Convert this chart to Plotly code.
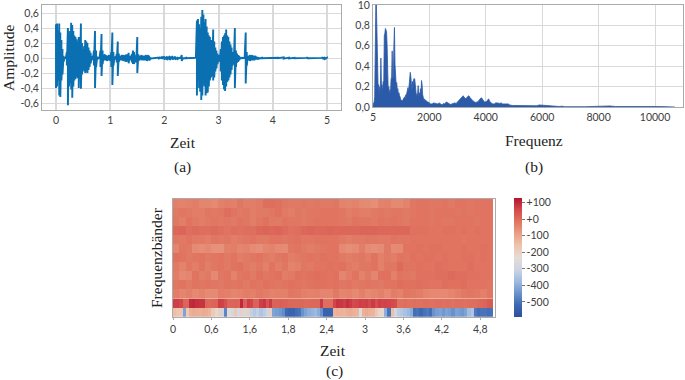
import plotly.graph_objects as go

W, H = 685, 380
GRID = "#d9d9d9"
FRAME = "#ababab"
TICK_FONT = dict(family="Lato, Open Sans, sans-serif", size=10.5, color="#404040")
TITLE_FONT = dict(family="Liberation Serif, serif", size=15.5, color="#222222")

# (a) waveform envelope
wave_time = [
    0.00,0.02,0.04,0.06,0.08,0.10,0.12,0.14,0.16,0.18,
    0.20,0.22,0.24,0.26,0.28,0.30,0.32,0.34,0.36,0.38,
    0.40,0.42,0.44,0.46,0.48,0.50,0.52,0.54,0.56,0.58,
    0.60,0.62,0.64,0.66,0.68,0.70,0.72,0.74,0.76,0.78,
    0.80,0.82,0.84,0.86,0.88,0.90,0.92,0.94,0.96,0.98,
    1.00,1.02,1.04,1.06,1.08,1.10,1.12,1.14,1.16,1.18,
    1.20,1.22,1.24,1.26,1.28,1.30,1.32,1.34,1.36,1.38,
    1.40,1.42,1.44,1.46,1.48,1.50,1.52,1.54,1.56,1.58,
    1.60,1.62,1.64,1.66,1.68,1.70,1.72,
    1.76,1.90,1.95,2.00,2.05,2.10,2.15,2.20,2.25,2.30,2.32,2.34,2.40,2.58,
    2.60,2.62,2.64,2.66,2.68,2.70,2.72,2.74,2.76,2.78,
    2.80,2.82,2.84,2.86,2.88,2.90,2.92,2.94,2.96,2.98,
    3.00,3.02,3.04,3.06,3.08,3.10,3.12,3.14,3.16,3.18,
    3.20,3.22,3.24,3.26,3.28,3.30,3.32,3.34,3.36,3.38,
    3.40,3.42,3.44,3.46,3.48,3.50,3.52,3.54,3.56,3.58,
    3.60,3.62,3.64,3.66,3.68,3.70,3.72,3.74,
    3.80,4.10,4.20,4.30,4.40,4.62,4.64,4.66,4.90,4.92,4.96,5.00,
]
wave_upper = [
    .45,.46,.36,.46,.34,.24,.12,.03,.01,.01,
    .08,.40,.36,.30,.47,.44,.36,.30,.28,.25,
    .22,.28,.22,.46,.20,.12,.16,.24,.22,.20,
    .14,.10,.07,.03,.02,.10,.36,.10,.02,.01,
    .01,.10,.32,.10,.04,.05,.04,.03,.03,.04,
    .03,.08,.34,.08,.02,.02,.05,.22,.06,.03,
    .03,.04,.04,.03,.04,.05,.03,.07,.03,.02,
    .05,.10,.08,.03,.04,.28,.05,.03,.03,.04,
    .03,.03,.03,.04,.03,.04,.03,
    .005,.005,.01,.02,.02,.025,.025,.02,.01,.01,.04,.01,.003,.003,
    .50,.52,.45,.40,.55,.64,.58,.48,.52,.42,
    .34,.30,.28,.24,.22,.38,.22,.14,.10,.06,
    .04,.03,.12,.22,.28,.30,.33,.38,.30,.28,
    .22,.18,.14,.08,.06,.40,.10,.06,.04,.03,
    .01,.01,.01,.01,.01,.34,.08,.03,.03,.04,
    .03,.04,.03,.03,.03,.02,.01,.01,
    .003,.003,.008,.006,.002,.002,.01,.002,.002,.012,.012,.002,
]
wave_lower = [
    -.40,-.38,-.30,-.50,-.52,-.30,-.22,-.05,-.01,-.01,
    -.10,-.63,-.38,-.34,-.42,-.53,-.38,-.30,-.28,-.25,
    -.27,-.40,-.25,-.41,-.22,-.15,-.18,-.20,-.18,-.20,
    -.16,-.12,-.07,-.03,-.02,-.10,-.40,-.12,-.02,-.01,
    -.01,-.12,-.24,-.08,-.03,-.03,-.03,-.04,-.03,-.03,
    -.04,-.12,-.36,-.10,-.02,-.02,-.06,-.24,-.05,-.03,
    -.03,-.03,-.04,-.03,-.05,-.05,-.03,-.07,-.03,-.02,
    -.06,-.08,-.08,-.02,-.06,-.20,-.04,-.03,-.02,-.03,
    -.03,-.03,-.03,-.03,-.04,-.03,-.03,
    -.005,-.005,-.01,-.02,-.025,-.025,-.02,-.02,-.01,-.01,-.04,-.01,-.003,-.003,
    -.50,-.30,-.40,-.45,-.56,-.50,-.35,-.38,-.50,-.47,
    -.46,-.38,-.30,-.26,-.24,-.30,-.26,-.18,-.14,-.08,
    -.05,-.04,-.18,-.30,-.36,-.42,-.44,-.38,-.32,-.30,
    -.26,-.22,-.16,-.10,-.08,-.40,-.12,-.06,-.05,-.03,
    -.01,-.01,-.01,-.01,-.01,-.34,-.10,-.03,-.03,-.04,
    -.03,-.03,-.03,-.03,-.02,-.02,-.01,-.01,
    -.003,-.003,-.008,-.006,-.002,-.002,-.01,-.002,-.002,-.012,-.012,-.002,
]
assert len(wave_time) == len(wave_upper) == len(wave_lower)

# (b) spectrum
freq = [
    5,25,45,65,85,105,125,145,165,185,205,225,245,265,285,305,325,345,365,385,
    405,425,445,465,485,505,525,545,565,585,605,625,645,665,685,705,725,745,765,785,
    805,825,845,865,885,905,925,945,965,985,1005,1025,1045,1065,1085,1105,1125,1145,1165,1185,
    1205,1225,1245,1265,1285,1305,1325,1345,1365,1385,1405,1425,1445,1465,1485,1505,1525,1545,1565,1585,
    1605,1625,1645,1665,1685,1705,1725,1745,1765,1785,1805,1825,1845,1865,1885,1905,1925,1945,1965,1985,
    2000,2050,2100,2150,2200,2250,2300,2350,2400,2450,2500,2550,2600,2650,2700,2750,2800,2850,2900,2950,
    3000,3050,3100,3150,3200,3250,3300,3350,3400,3450,3500,3550,3600,3650,3700,3750,3800,3850,3900,3950,
    4000,4050,4100,4150,4200,4250,4300,4350,4400,4450,4500,4550,4600,4650,4700,4750,4800,4850,4900,4950,
    5000,5100,5200,5300,5400,5500,5600,5700,5800,5900,
    6000,6100,6200,6300,6400,6500,6600,6700,6800,7500,7600,7800,8000,8200,8400,8600,8800,9000,9200,9400,
    9600,9800,10000,10200,10400,10600,10700,
]
magnitude = [
    .02,.03,.05,.10,.90,1.0,1.0,.60,.54,.20,.22,.12,.20,.16,.48,.20,.22,.14,.25,.22,
    .70,.72,.77,.75,.74,.60,.28,.15,.20,.12,.17,.14,.27,.30,.55,.28,.30,.60,.78,.42,
    .32,.22,.24,.17,.18,.12,.14,.11,.10,.07,.07,.06,.06,.07,.08,.09,.10,.08,.12,.11,
    .14,.17,.19,.15,.24,.28,.34,.30,.22,.16,.25,.21,.27,.28,.27,.22,.20,.10,.13,.12,
    .21,.10,.14,.10,.18,.12,.26,.22,.12,.09,.07,.08,.06,.07,.06,.05,.05,.05,.05,.04,
    .04,.03,.03,.04,.035,.03,.03,.04,.03,.02,.035,.03,.05,.04,.035,.025,.03,.035,.04,.035,
    .05,.06,.08,.10,.11,.09,.08,.10,.11,.09,.07,.06,.05,.045,.05,.06,.08,.09,.07,.05,
    .05,.06,.08,.05,.04,.03,.03,.04,.04,.035,.035,.04,.03,.03,.03,.025,.03,.02,.015,.015,
    .015,.015,.012,.012,.012,.015,.015,.013,.012,.02,
    .018,.012,.01,.008,.006,.005,.005,.008,.003,.003,.004,.006,.01,.012,.01,.005,.006,.007,.006,.005,
    .006,.005,.005,.004,.005,.002,0,
]
assert len(freq) == len(magnitude)

# (c) mel spectrogram: upper bands, 50 columns (0.1 s each)
bands_upper = [
 [-35,-40,-35,-30,-45,-45,-50,-35,-30,-35,-20,-30,-30,-25,-5,-5,-10,-20,-25,-25,-20,-25,-20,-25,-25,-20,-40,-45,-40,-50,-55,-60,-40,-35,-50,-50,-40,-20,-15,-15,-20,-20,-15,-25,-15,-15,-20,-15,-15,-15],
 [-25,-20,-25,-30,-30,-20,-25,-20,-5,-15,-25,-20,-30,-25,-25,-20,-10,-25,-30,-20,-25,-20,-20,-15,-15,-15,-20,-30,-25,-30,-30,-25,-20,-25,-20,-20,-25,-20,-15,-15,-20,-15,-15,-15,-20,-15,-20,-15,-15,-15],
 [-20,-30,-15,-25,-30,-25,-20,-25,-20,-25,-15,-20,-30,-20,-10,-25,-25,-15,-20,-20,-25,-20,-15,-15,-15,-15,-20,-25,-15,-20,-20,-25,-15,-20,-15,-20,-25,-15,-15,-15,-20,-15,-20,-20,-15,-15,-15,-20,-15,-15],
 [5,10,-5,0,-5,-5,0,-5,-15,-5,-10,-5,-5,5,10,5,10,0,-10,-5,5,10,5,5,10,5,5,5,5,10,10,10,5,5,5,5,5,-10,-10,-12,-15,-15,-12,-10,-15,-12,-15,-12,-15,-15],
 [-20,-25,-15,-25,-25,-30,-20,-25,-20,-30,-25,-20,-15,-25,-25,-15,-15,-20,-15,-10,-20,-20,-15,-15,-15,-15,-25,-30,-25,-25,-20,-20,-25,-25,-15,-20,-20,-15,-15,-15,-15,-15,-15,-15,-15,-20,-15,-15,-15,-15],
 [-45,-20,-25,-55,-60,-50,-65,-65,-35,-30,-45,-40,-55,-60,-45,-40,-50,-55,-20,-15,-25,-30,-25,-20,-15,-15,-50,-60,-55,-30,-55,-60,-55,-25,-55,-50,-15,-15,-10,-15,-10,-10,-15,-15,-15,-10,-15,-15,-10,-15],
 [-10,-15,-25,-20,-15,-25,-20,-15,-25,-15,-30,-25,-20,-15,-25,-30,-20,-15,-30,-25,-20,-15,-20,-10,-15,-15,-25,-30,-25,-20,-30,-15,-35,-25,-30,-15,-20,-10,-15,-10,-10,-15,-10,-15,-15,-10,-10,-15,-10,-15],
 [-25,-40,-20,-30,-15,-30,-20,-15,-25,-15,-10,-25,-30,-20,-35,-15,-30,-20,-40,-35,-20,-25,-15,-15,-10,-15,-10,-25,-30,-20,-20,-15,-35,-20,-20,0,-15,-15,-10,-15,-15,-5,-10,-15,-15,-15,-5,-15,-15,-15],
 [-30,-50,-45,-15,-30,-25,-50,-20,-15,-40,-20,-15,-25,-10,-20,-15,-10,-30,-25,-10,-15,-10,-5,-10,-15,-10,-45,-30,-15,-40,-25,-45,-10,-10,-35,-15,-20,-25,-10,-10,-10,-5,-5,0,-5,-5,-10,-10,-15,-15],
 [-20,-15,-25,-15,-20,-15,-20,-25,-15,-20,-15,-25,-15,-20,-10,-15,-20,-15,-10,-15,-20,-15,-10,-10,-15,-10,-20,-15,-25,-20,-15,-20,-25,-15,-15,-5,-10,-10,-5,-10,-15,-15,-5,-10,-10,-5,-15,-15,-15,-20],
 [-30,-45,-35,-50,-40,-55,-55,-30,-35,-45,-40,-30,-35,-25,-30,-40,-35,-35,-20,-25,-35,-40,-35,-45,-45,-25,-45,-40,-50,-35,-50,-45,-35,-50,-30,-40,-20,-25,-30,-45,-50,-50,-50,-45,-35,-25,-20,-25,-35,-20],
]
# lowest two bands, 100 columns (0.05 s each)
band_red = [
 70,70,60,10,10,95,100,90,85,85,10,5,10,15,70,65,45,10,10,15,10,100,20,70,60,15,15,70,80,40,75,15,15,20,15,15,5,5,5,5,5,0,0,5,5,5,75,-5,-5,-5,
 60,85,80,70,90,75,55,60,70,65,70,55,75,50,70,60,65,60,55,50,-10,-10,-5,-10,-10,-5,-10,-10,-5,-5,-10,-10,-5,-5,-10,-5,-5,-10,-5,-5,-5,-10,-5,-5,-5,0,5,10,25,25,
]
band_blue = [
 -150,-160,-170,-420,-180,-120,-110,-115,-120,-110,-115,-130,-180,-220,-190,-300,-470,-240,-280,-170,-280,-200,-270,-200,-320,-340,-320,-350,-330,-300,-200,-420,-430,-440,-460,-520,-530,-530,-510,-500,-450,-420,-400,-390,-380,-400,-450,-540,-540,-540,
 -130,-120,-125,-130,-115,-110,-120,-130,-250,-120,-110,-120,-130,-170,-210,-220,-400,-500,-150,-280,-330,-340,-360,-380,-400,-510,-500,-520,-500,-490,-510,-450,-430,-420,-440,-420,-430,-450,-420,-430,-440,-420,-370,-350,-490,-510,-500,-500,-510,-500,
]
assert len(band_red) == 100 and len(band_blue) == 100
assert all(len(r) == 50 for r in bands_upper)
time_tick_vals = [0, 0.6, 1.2, 1.8, 2.4, 3.0, 3.6, 4.2, 4.8]
time_tick_text = ["0", "0,6", "1,6", "1,8", "2,4", "3", "3,6", "4,2", "4,8"]
cbar_vals = [100, 0, -100, -200, -300, -400, -500]
cbar_text = ["+100", "+0", "-100", "-200", "-300", "-400", "-500"]

COOLWARM = [
    [0.0, "#2f4f9f"], [0.1, "#3d68b2"], [0.2, "#6b93cc"], [0.3, "#9fbbe0"], [0.4, "#cdd5e2"],
    [0.5, "#e4dcd6"], [0.6, "#eec4ad"], [0.7, "#ea9f86"], [0.8, "#e07560"], [0.9, "#d44a4c"], [1.0, "#b2142f"],
]

def dom_x(a, b):
    return [a / W, b / W]

def dom_y(top, bottom):
    return [1 - bottom / H, 1 - top / H]

def label(text, x, y, angle=0):
    return dict(text=text, x=x / W, y=1 - y / H, xref="paper", yref="paper", xanchor="center",
                yanchor="middle", showarrow=False, textangle=angle, font=TITLE_FONT)

fig = go.Figure()

zx, zy = [], []
for t, u, l in zip(wave_time, wave_upper, wave_lower):
    zx += [t, t]
    zy += [u, l]
fig.add_trace(go.Scatter(x=zx, y=zy, mode="lines", line=dict(color="#0a70b2", width=1.9),
                         xaxis="x", yaxis="y", showlegend=False))

fig.add_trace(go.Scatter(x=freq, y=magnitude, mode="lines", fill="tozeroy", fillcolor="#2b5aa8",
                         line=dict(color="#2b5aa8", width=0.8), xaxis="x2", yaxis="y2", showlegend=False))

fig.add_trace(go.Heatmap(z=bands_upper, x=[0.05 + 0.1 * i for i in range(50)], y=list(range(11)),
                         coloraxis="coloraxis", xaxis="x3", yaxis="y3"))
fig.add_trace(go.Heatmap(z=[band_red, band_blue], x=[0.025 + 0.05 * i for i in range(100)], y=[11, 12],
                         coloraxis="coloraxis", xaxis="x3", yaxis="y3"))

fig.update_layout(
    width=W, height=H, margin=dict(l=0, r=0, t=0, b=0, autoexpand=False), autosize=False,
    paper_bgcolor="white", plot_bgcolor="white",
    xaxis=dict(domain=dom_x(42, 341), anchor="y", range=[-0.258, 5.258], tickvals=[0, 1, 2, 3, 4, 5],
               gridcolor=GRID, gridwidth=1.5, showline=True, linecolor=FRAME, mirror=True, zeroline=False,
               tickfont=TICK_FONT, ticks="", automargin=False),
    yaxis=dict(domain=dom_y(5, 110), anchor="x", range=[-0.693, 0.707],
               tickvals=[-0.6, -0.4, -0.2, 0, 0.2, 0.4, 0.6],
               ticktext=["-0,6", "-0,4", "-0,2", "0,0", "0,2", "0,4", "0,6"],
               gridcolor=GRID, showline=True, linecolor=FRAME, mirror=True, zeroline=False,
               tickfont=TICK_FONT, ticks="", automargin=False),
    xaxis2=dict(domain=dom_x(373, 683), anchor="y2", range=[5, 10990], tickvals=[5, 2000, 4000, 6000, 8000, 10000],
                ticktext=["5", "2000", "4000", "6000", "8000", "10000"],
                gridcolor=GRID, gridwidth=1.2, showline=True, linecolor=FRAME, mirror=True, zeroline=False,
                tickfont=TICK_FONT, ticks="", automargin=False),
    yaxis2=dict(domain=dom_y(5, 107), anchor="x2", range=[0, 1.0], tickvals=[0, 0.2, 0.4, 0.6, 0.8, 1.0],
                ticktext=["0,0", "0,2", "0,4", "0,6", "0,8", "10"], ticklabeloverflow="allow",
                gridcolor=GRID, showline=True, linecolor=FRAME, mirror=True, zeroline=False,
                tickfont=TICK_FONT, ticks="", automargin=False),
    xaxis3=dict(domain=dom_x(173, 495), anchor="y3", range=[0, 5.03], tickvals=time_tick_vals, ticktext=time_tick_text,
                showgrid=False, showline=True, linecolor=FRAME, mirror=True, zeroline=False,
                tickfont=TICK_FONT, ticks="outside", ticklen=2, tickcolor=FRAME, automargin=False),
    yaxis3=dict(domain=dom_y(198.5, 317), anchor="x3", range=[12.5, -0.5], showticklabels=False, ticks="",
                showgrid=False, showline=True, linecolor=FRAME, mirror=True, zeroline=False, automargin=False),
    coloraxis=dict(cmin=-591, cmax=127, colorscale=COOLWARM,
                   colorbar=dict(x=514 / W, xanchor="left", y=1 - 317 / H, yanchor="bottom",
                                 lenmode="pixels", len=118.5, thicknessmode="pixels", thickness=8,
                                 tickvals=cbar_vals, ticktext=cbar_text, ticks="outside", ticklen=3,
                                 tickcolor="#777777", outlinewidth=0, xpad=0, ypad=0,
                                 tickfont=dict(family="Lato, Open Sans, sans-serif", size=10.5, color="#404040"))),
    annotations=[
        label("Amplitude", 8, 58, -90),
        label("Zeit", 183, 143),
        label("Frequenz", 534, 141),
        label("Frequenzbänder", 156, 258, -90),
        label("Zeit", 333, 350),
        label("(a)", 183, 167),
        label("(b)", 534, 167),
        label("(c)", 334, 371),
    ],
)

fig.write_html("out.html", config=dict(displayModeBar=False),
               post_script="document.body.style.margin='0';document.body.style.overflow='hidden';")
